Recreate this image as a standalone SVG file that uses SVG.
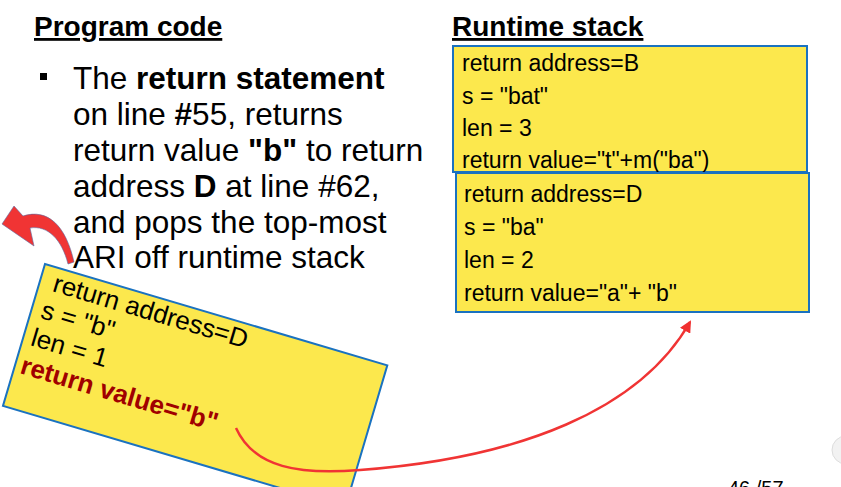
<svg xmlns="http://www.w3.org/2000/svg" width="841" height="487" viewBox="0 0 841 487">
<style>
text{font-family:"Liberation Sans",Arial,sans-serif;fill:#000}
.h{font-size:28px;font-weight:bold;text-decoration:underline}
.b{font-size:31.5px}
.s{font-size:23px}
.r{font-size:26px}
.box{fill:#fce84d;stroke:#1a72c0;stroke-width:2}
</style>
<defs><marker id="ah" markerWidth="12" markerHeight="12" refX="10" refY="6" orient="auto" markerUnits="userSpaceOnUse"><path d="M0,0 L12,6 L0,12 Z" fill="#f03030"/></marker></defs>
<rect width="841" height="487" fill="#fff"/>
<text class="h" x="34" y="36">Program code</text>
<text class="h" x="452" y="36">Runtime stack</text>
<g id="bullet">
<rect x="40" y="73" width="7" height="7" fill="#000"/>
<text class="b" x="73" y="89">The <tspan font-weight="bold">return statement</tspan></text>
<text class="b" x="73" y="125">on line <tspan font-weight="bold">#</tspan>55, returns</text>
<text class="b" x="73" y="161">return value <tspan font-weight="bold">"b"</tspan> to return</text>
<text class="b" x="73" y="197">address <tspan font-weight="bold">D</tspan> at line #62,</text>
<text class="b" x="73" y="233">and pops the top-most</text>
<text class="b" x="73" y="268">ARI off runtime stack</text>
</g>
<g id="ari1">
<rect class="box" x="453" y="46" width="354" height="126"/>
<text class="s" x="462" y="71">return address=B</text>
<text class="s" x="462" y="104">s = "bat"</text>
<text class="s" x="462" y="136">len = 3</text>
<text class="s" x="462" y="168">return value="t"+m("ba")</text>
</g>
<g id="ari2">
<rect class="box" x="456" y="173" width="353" height="139"/>
<text class="s" x="464" y="202">return address=D</text>
<text class="s" x="464" y="235">s = "ba"</text>
<text class="s" x="464" y="268">len = 2</text>
<text class="s" x="464" y="301">return value="a"+ "b"</text>
</g>
<g id="popArrow">
<path d="M68,264 C62,240 48,225 30,228 L34,246 L2,224 L14,206 L23,216 C48,208 66,226 74,262 Z" fill="#f03434" stroke="#5a6aa0" stroke-width="0.6"/>
</g>
<g id="ari3" transform="translate(45,264) rotate(16.5)">
<rect class="box" x="0" y="0" width="357" height="148"/>
<text class="r" x="14" y="24">return address=D</text>
<text class="r" x="10" y="53">s = "b"</text>
<text class="r" x="8" y="82">len = 1</text>
<text class="r" x="6" y="112" font-weight="bold" style="fill:#a00000">return value="b"</text>
</g>
<g id="connectors">
<path d="M236,428 C254,468 300,475 360,470 C520,458 640,410 690,322" fill="none" stroke="#f03434" stroke-width="2.5" marker-end="url(#ah)"/>
</g>
<text x="728" y="495" font-size="20" font-family="Liberation Sans,sans-serif">46 /57</text>
<circle cx="846" cy="450" r="14" fill="#f2f2f2" stroke="#ddd"/>
</svg>
